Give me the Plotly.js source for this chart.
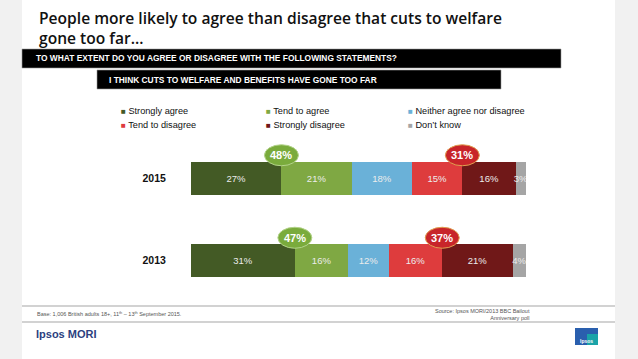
<!DOCTYPE html>
<html>
<head>
<meta charset="utf-8">
<script src="https://cdn.plot.ly/plotly-3.0.1.min.js"></script>
<style>html,body{margin:0;padding:0;background:#f1f1f1;}#chart{width:638px;height:359px;}</style>
</head>
<body>
<div id="chart"></div>
<script>
// ---- data ----
var years = ['2013', '2015'];
var seriesNames = ['Strongly agree', 'Tend to agree', 'Neither agree nor disagree', 'Tend to disagree', 'Strongly disagree', "Don\u2019t know"];
var stronglyAgree    = [31, 27];
var tendToAgree      = [16, 21];
var neither          = [12, 18];
var tendToDisagree   = [16, 15];
var stronglyDisagree = [21, 16];
var dontKnow         = [4, 3];
var netAgree    = [47, 48];
var netDisagree = [37, 31];
var titleText = 'People more likely to agree than disagree that cuts to welfare<br>gone too far\u2026';
var questionText = 'TO WHAT EXTENT DO YOU AGREE OR DISAGREE WITH THE FOLLOWING STATEMENTS?';
var statementText = 'I THINK CUTS TO WELFARE AND BENEFITS HAVE GONE TOO FAR';
var baseText = 'Base: 1,006 British adults 18+, 11<sup>th</sup> \u2013 13<sup>th</sup> September 2015.';
var sourceText = 'Source: Ipsos MORI/2013 BBC Bailout<br>Anniversary poll';

// ---- style ----
var colors = ['#435a25', '#7fa843', '#6ab1d8', '#de3c3d', '#701818', '#a5a5a5'];
var allSeries = [stronglyAgree, tendToAgree, neither, tendToDisagree, stronglyDisagree, dontKnow];

// plot area in pixels
var L = 191, R = 526, T = 137, B = 302;
function px(x) { return (x - L) / (R - L); }
function py(y) { return (B - y) / (B - T); }

var traces = allSeries.map(function (vals, i) {
  return {
    type: 'bar', orientation: 'h', name: seriesNames[i],
    y: years, x: vals,
    marker: {color: colors[i], line: {width: 0}},
    width: 0.4,
    text: vals.map(function (v) { return v + '%'; }),
    textposition: 'inside', insidetextanchor: 'middle', constraintext: 'none', textangle: 0,
    textfont: {family: 'Liberation Sans, Arial, sans-serif', size: 9.5, color: '#ececec'},
    hoverinfo: 'none', showlegend: false
  };
});

var shapes = [
  // slide white area
  {type: 'rect', xref: 'paper', yref: 'paper', x0: px(22), x1: px(615), y0: py(0), y1: py(359), fillcolor: '#ffffff', line: {width: 0}, layer: 'below'},
  // black bands
  {type: 'rect', xref: 'paper', yref: 'paper', x0: px(22), x1: px(561), y0: py(68), y1: py(49), fillcolor: '#000000', line: {color: '#9a9a9a', width: 0.6}},
  {type: 'rect', xref: 'paper', yref: 'paper', x0: px(97), x1: px(501), y0: py(89), y1: py(70), fillcolor: '#000000', line: {color: '#9a9a9a', width: 0.6}},
  // footer lines
  {type: 'line', xref: 'paper', yref: 'paper', x0: px(22), x1: px(615), y0: py(306), y1: py(306), line: {color: '#d2d2d2', width: 2}},
  {type: 'line', xref: 'paper', yref: 'paper', x0: px(22), x1: px(615), y0: py(322), y1: py(322), line: {color: '#d2d2d2', width: 2}},
  // logo
  {type: 'rect', xref: 'paper', yref: 'paper', x0: px(575), x1: px(598), y0: py(345), y1: py(328), fillcolor: '#2a5fae', line: {width: 0}},
  {type: 'rect', xref: 'paper', yref: 'paper', x0: px(587), x1: px(598), y0: py(345), y1: py(334), fillcolor: '#1aa3a8', line: {width: 0}}
];

var annotations = [
  {xref: 'paper', yref: 'paper', x: px(37), y: py(28), xanchor: 'left', yanchor: 'middle', align: 'left', showarrow: false,
   text: titleText, font: {family: 'Open Sans, Liberation Sans, sans-serif', size: 15.6, weight: 600, color: '#111111'}},
  {xref: 'paper', yref: 'paper', x: px(34), y: py(58.5), xanchor: 'left', yanchor: 'middle', showarrow: false,
   text: questionText, font: {family: 'Liberation Sans, Arial, sans-serif', size: 8.4, weight: 700, color: '#ffffff'}},
  {xref: 'paper', yref: 'paper', x: px(107), y: py(79.5), xanchor: 'left', yanchor: 'middle', showarrow: false,
   text: statementText, font: {family: 'Liberation Sans, Arial, sans-serif', size: 8.4, weight: 700, color: '#ffffff'}},
  {xref: 'paper', yref: 'paper', x: px(35), y: py(314), xanchor: 'left', yanchor: 'middle', showarrow: false,
   text: baseText, font: {family: 'Liberation Sans, Arial, sans-serif', size: 5.5, color: '#555555'}},
  {xref: 'paper', yref: 'paper', x: px(532), y: py(314), xanchor: 'right', yanchor: 'middle', align: 'right', showarrow: false,
   text: sourceText, font: {family: 'Liberation Sans, Arial, sans-serif', size: 5.5, color: '#555555'}},
  {xref: 'paper', yref: 'paper', x: px(34), y: py(334), xanchor: 'left', yanchor: 'middle', showarrow: false,
   text: 'Ipsos MORI', font: {family: 'Liberation Sans, Arial, sans-serif', size: 11, weight: 700, color: '#2c3f7f'}},
  {xref: 'paper', yref: 'paper', x: px(586.5), y: py(341), xanchor: 'center', yanchor: 'middle', showarrow: false,
   text: 'Ipsos', font: {family: 'Liberation Sans, Arial, sans-serif', size: 5, weight: 700, color: '#ffffff'}}
];

// legend (custom, from series names and colours)
var legX = [119, 264, 406], legY = [111, 125];
seriesNames.forEach(function (n, i) {
  annotations.push({xref: 'paper', yref: 'paper', x: px(legX[i % 3]), y: py(legY[Math.floor(i / 3)]),
    xanchor: 'left', yanchor: 'middle', showarrow: false,
    text: '<span style="color:' + colors[i] + '; font-size:8px">\u25A0</span> ' + n,
    font: {family: 'Liberation Sans, Arial, sans-serif', size: 9.2, color: '#111111'}});
});

// net callouts
var ySpan = B - T, unitPx = ySpan / 2, xUnitPx = (R - L) / 100;
var dy = 23 / unitPx, ry = 10.5 / unitPx, rx = 17 / xUnitPx;
years.forEach(function (yr, i) {
  var yc = i + dy;
  var xa = stronglyAgree[i];
  var xd = stronglyAgree[i] + tendToAgree[i] + neither[i] + tendToDisagree[i];
  shapes.push({type: 'circle', xref: 'x', yref: 'y', x0: xa - rx, x1: xa + rx, y0: yc - ry, y1: yc + ry,
    fillcolor: '#7aab3c', line: {color: '#b3d38a', width: 1}});
  shapes.push({type: 'circle', xref: 'x', yref: 'y', x0: xd - rx, x1: xd + rx, y0: yc - ry, y1: yc + ry,
    fillcolor: '#c8252a', line: {color: '#e0a050', width: 1}});
  annotations.push({xref: 'x', yref: 'y', x: xa, y: yc, showarrow: false, text: '<b>' + netAgree[i] + '%</b>',
    font: {family: 'Liberation Sans, Arial, sans-serif', size: 11, color: '#ffffff'}});
  annotations.push({xref: 'x', yref: 'y', x: xd, y: yc, showarrow: false, text: '<b>' + netDisagree[i] + '%</b>',
    font: {family: 'Liberation Sans, Arial, sans-serif', size: 11, color: '#ffffff'}});
});

var layout = {
  width: 638, height: 359,
  margin: {l: L, r: 638 - R, t: T, b: 359 - B, pad: 0},
  paper_bgcolor: '#f1f1f1', plot_bgcolor: 'rgba(0,0,0,0)',
  barmode: 'stack', showlegend: false,
  xaxis: {range: [0, 100], visible: false, fixedrange: true},
  yaxis: {type: 'category', categoryorder: 'array', categoryarray: years, range: [-0.5, 1.5],
    showgrid: false, zeroline: false, showline: false, ticks: 'outside', ticklen: 22, tickcolor: 'rgba(0,0,0,0)',
    tickfont: {family: 'Liberation Sans, Arial, sans-serif', size: 10.5, weight: 700, color: '#111111'}, fixedrange: true},
  shapes: shapes, annotations: annotations
};

Plotly.newPlot('chart', traces, layout, {displayModeBar: false, staticPlot: true});
</script>
</body>
</html>
